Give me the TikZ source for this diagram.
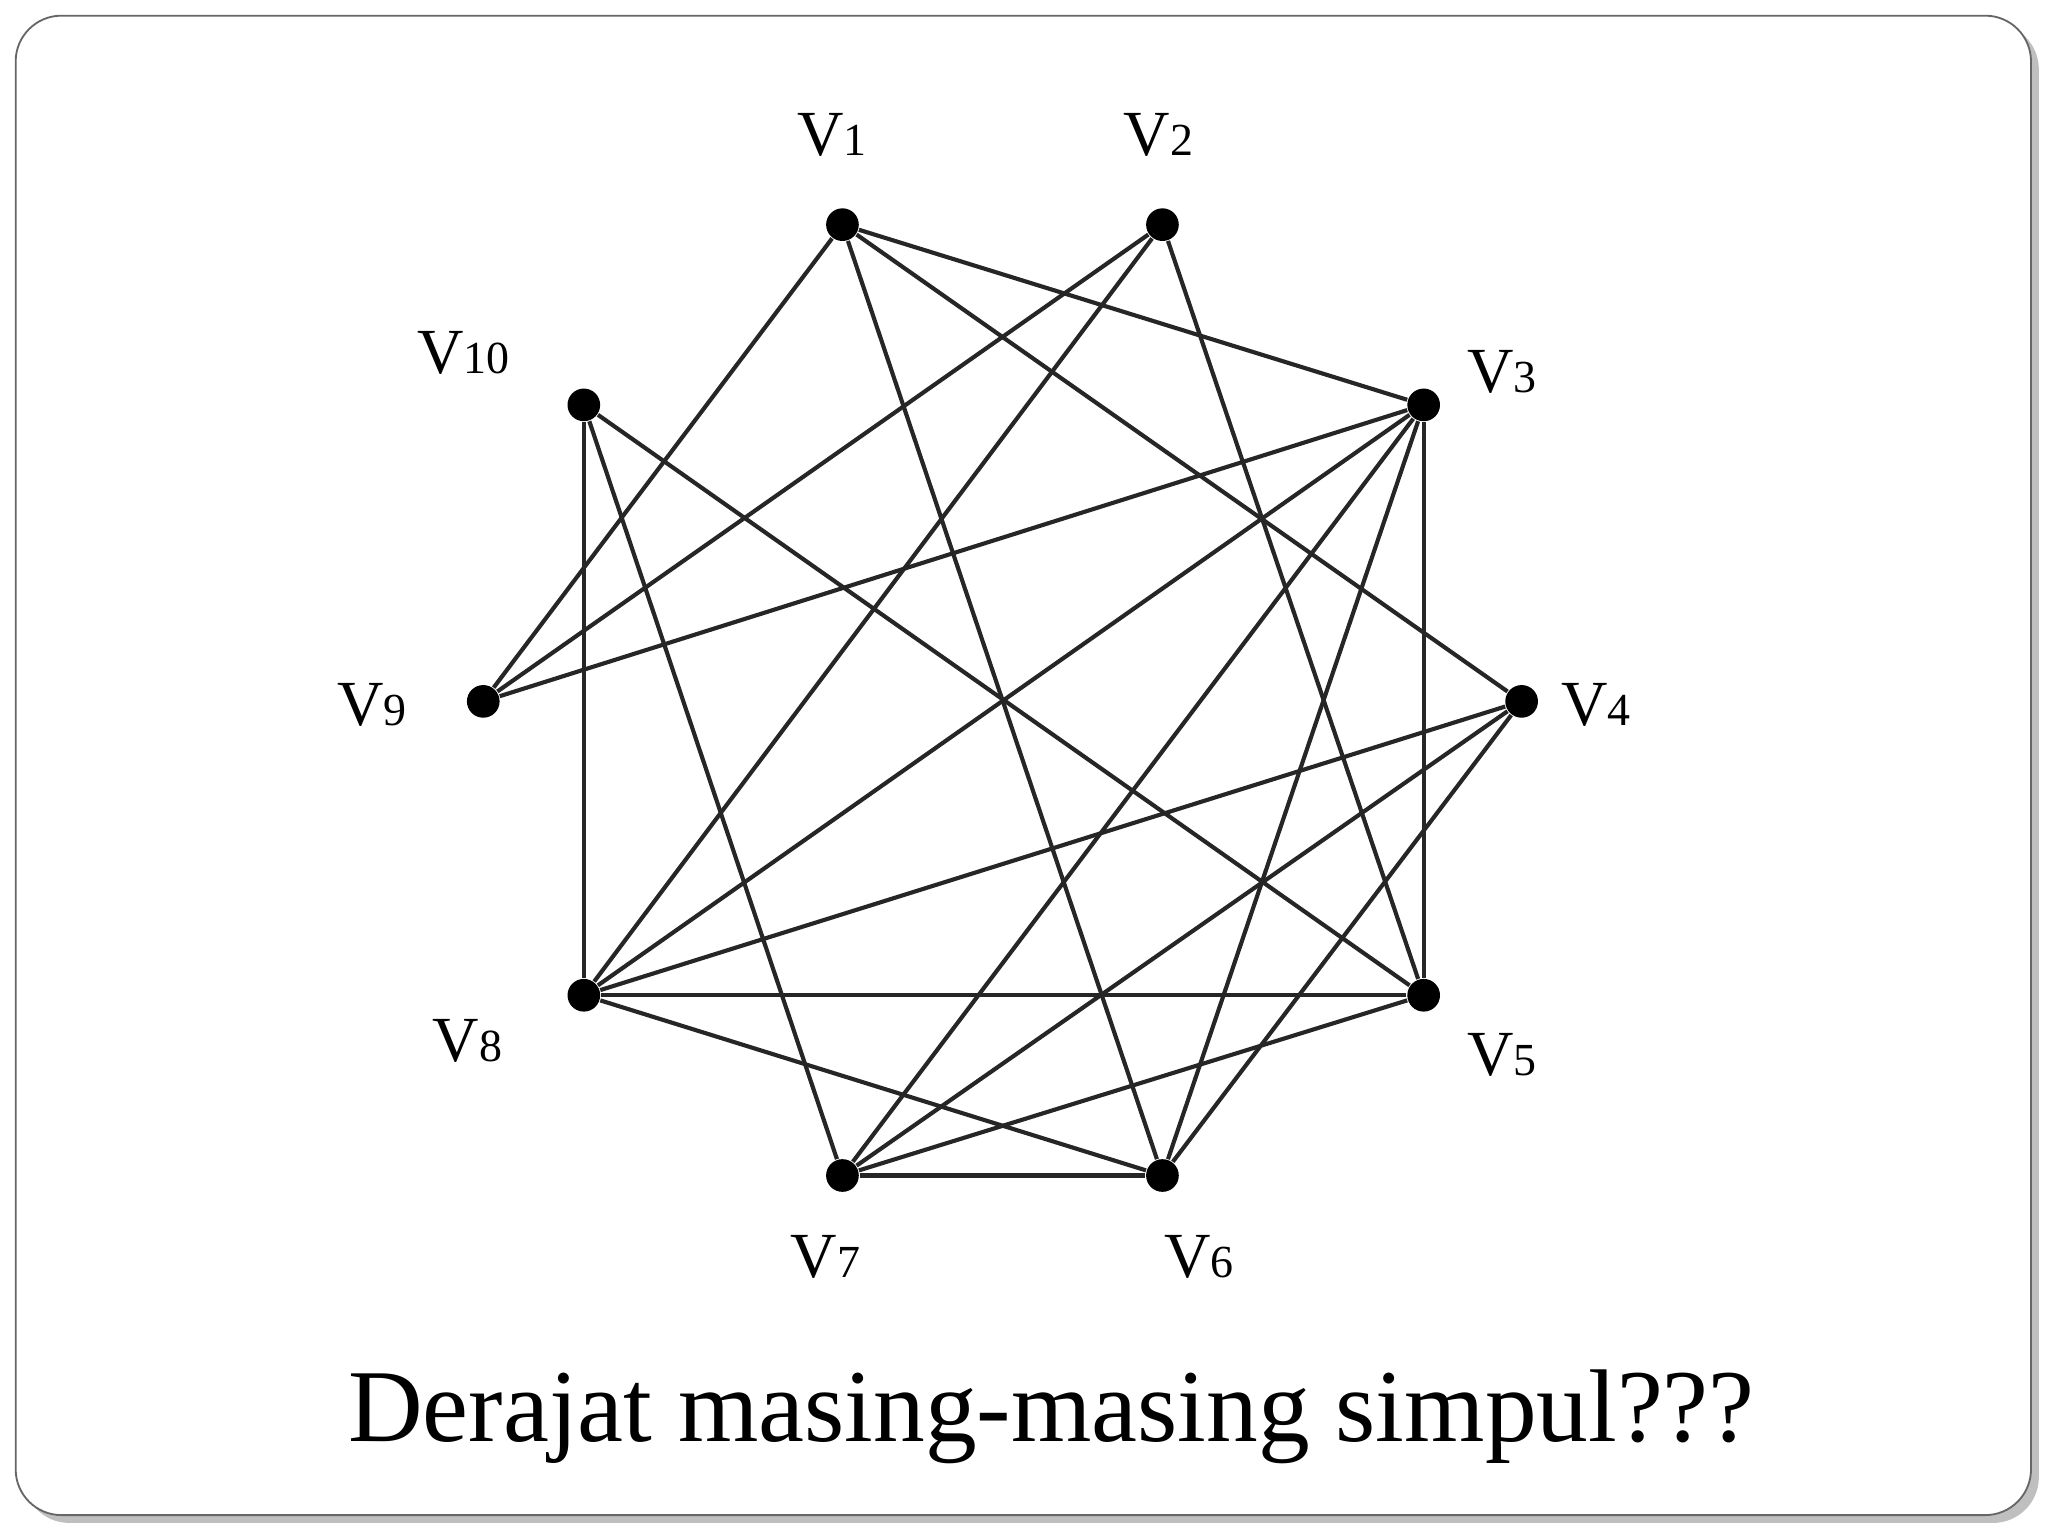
\documentclass[tikz,border=0pt]{standalone}
\usepackage{fontspec}
\setmainfont{Liberation Serif}
\tikzset{
  vtx/.style={circle, fill=black, inner sep=0pt, minimum size=0.25cm},
  lbl/.style={font=\fontsize{14}{17}\selectfont},
  edge/.style={line width=0.9pt, black!85}
}
\newcommand{\vl}[1]{V{\fontsize{10}{12}\selectfont #1}}
\begin{document}
\begin{tikzpicture}[x=0.01cm, y=-0.01cm]
    \useasboundingbox (0,0) rectangle (1568,1176);
    \fill[black!25, rounded corners=0.35cm] (18,18) rectangle (1561,1166);
    \draw[black!60, fill=white, rounded corners=0.35cm] (12,12) rectangle (1555,1160);

    \node[vtx] (v1) at (645,172) {};
    \node[vtx] (v2) at (890,172) {};
    \node[vtx] (v3) at (1090,310) {};
    \node[vtx] (v4) at (1165,537) {};
    \node[vtx] (v5) at (1090,762) {};
    \node[vtx] (v6) at (890,900) {};
    \node[vtx] (v7) at (645,900) {};
    \node[vtx] (v8) at (447,762) {};
    \node[vtx] (v9) at (370,537) {};
    \node[vtx] (v10) at (447,310) {};

    \node[lbl] (l1) at (637,103) {\vl{1}};
    \node[lbl] (l2) at (887,103) {\vl{2}};
    \node[lbl] (l3) at (1150,285) {\vl{3}};
    \node[lbl] (l4) at (1222,540) {\vl{4}};
    \node[lbl] (l5) at (1150,808) {\vl{5}};
    \node[lbl] (l6) at (918,962) {\vl{6}};
    \node[lbl] (l7) at (632,962) {\vl{7}};
    \node[lbl] (l8) at (358,797) {\vl{8}};
    \node[lbl] (l9) at (285,540) {\vl{9}};
    \node[lbl] (l10) at (355,270) {\vl{10}};

    \foreach \a/\b in {1/3,1/4,1/6,1/9,2/9,2/8,2/5,3/9,3/8,3/7,3/6,3/5,
                       4/8,4/7,4/6,5/8,5/7,10/8,10/7,10/5,8/6,7/6}
      \draw[edge] (v\a) -- (v\b);

    \node[font=\fontsize{22.5}{26}\selectfont] (title) at (805,1085) {Derajat masing-masing simpul???};
\end{tikzpicture}
\end{document}
